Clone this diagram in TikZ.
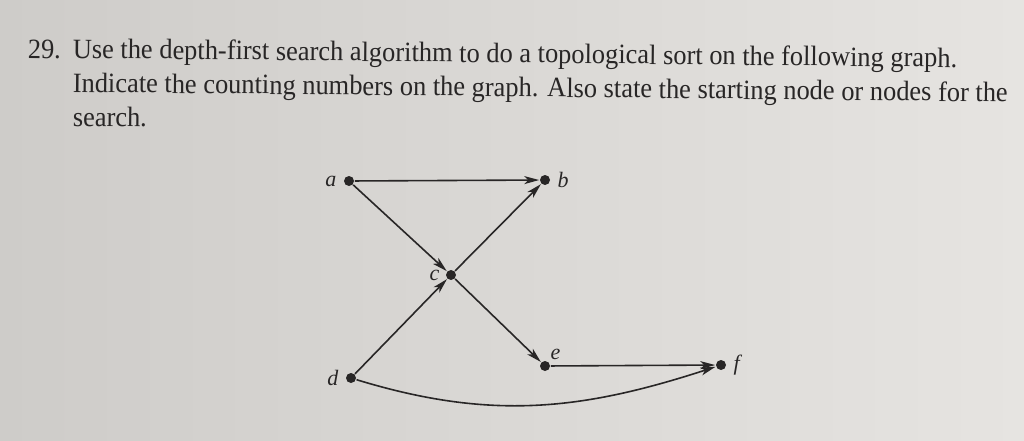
\documentclass[tikz,border=0pt]{standalone}
\usepackage{fontspec}
\setmainfont{Liberation Serif}
\usetikzlibrary{arrows.meta}
\definecolor{pageleft}{RGB}{206,204,201}
\definecolor{pageright}{RGB}{230,228,225}
\definecolor{ink}{RGB}{40,38,38}
\newcommand{\condensed}[1]{\scalebox{0.943}[1]{#1}}
\begin{document}
\begin{tikzpicture}[x=1pt, y=-1pt, >={Stealth[length=15pt, width=8pt, inset=4pt]}, line width=1.6pt,
	vertex/.style={circle, fill=ink, inner sep=0pt, minimum size=10pt},
	lbl/.style={font=\fontsize{22}{22}\selectfont\itshape, text=ink, inner sep=1pt},
	txt/.style={anchor=base west, inner sep=0pt, rotate=-0.6, font=\fontsize{28}{30}\selectfont, text=ink}]
	\shade[left color=pageleft, right color=pageright] (0,0) rectangle (1024,441);
	% the exercise
	\node[txt] (num) at (27,58) {\condensed{29.}};
	\node[txt] (line1) at (72,58) {\condensed{Use the depth-first search algorithm to do a topological sort on the following graph.}};
	\node[txt] (line2) at (72,92) {\condensed{Indicate the counting numbers on the graph. Also state the starting node or nodes for the}};
	\node[txt] (line3) at (72,126) {\condensed{search.}};
	% the graph
	\node[vertex, label={[lbl, label distance=5pt]left:a}] (a) at (349,181) {};
	\node[vertex, label={[lbl, label distance=5pt]right:b}] (b) at (545,180) {};
	\node[vertex, label={[lbl, label distance=4pt]182:c}] (c) at (451,275) {};
	\node[vertex, label={[lbl, label distance=0pt]50:e}] (e) at (545,366) {};
	\node[vertex, label={[lbl, label distance=5pt]left:d}] (d) at (351,378) {};
	\node[vertex, label={[lbl, label distance=5pt]right:f}] (f) at (721,365) {};
	\draw[->, ink] (a) -- (b);
	\draw[->, ink] (a) -- (c);
	\draw[->, ink] (c) -- (b);
	\draw[->, ink] (d) -- (c);
	\draw[->, ink] (c) -- (e);
	\draw[->, ink] (e) -- (f);
	\draw[->, ink] (d) to[out=-17, in=198] (f);
\end{tikzpicture}
\end{document}
